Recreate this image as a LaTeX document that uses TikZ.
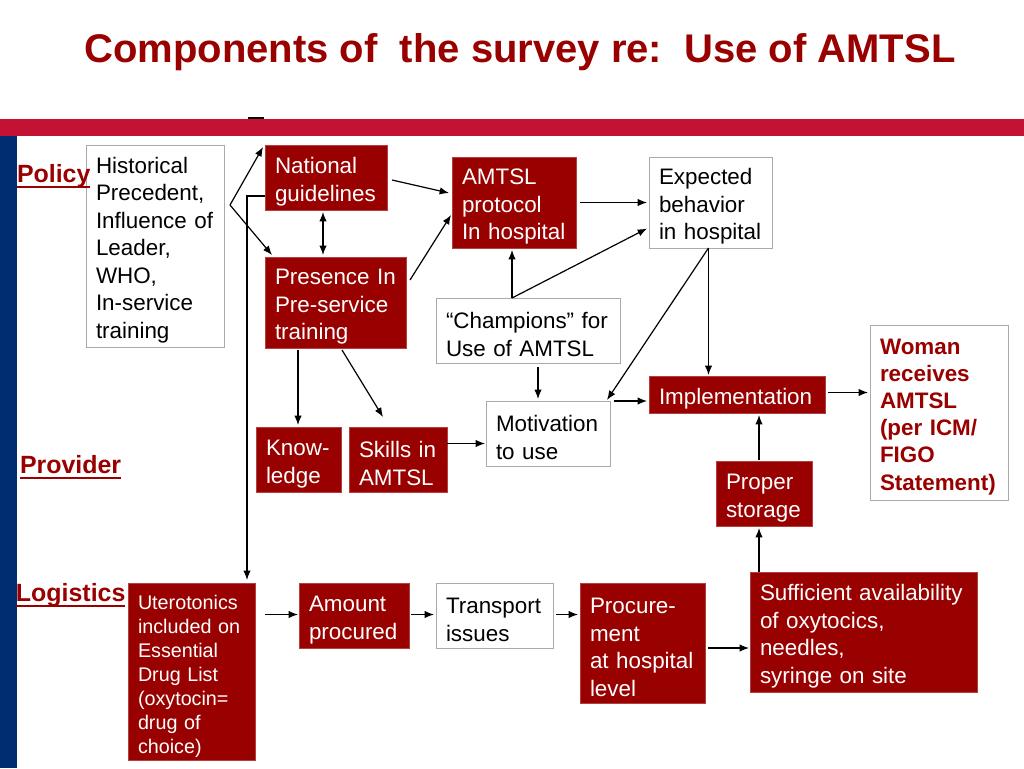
\documentclass[tikz,border=0pt]{standalone}
\usepackage{fontspec}
\setmainfont{Liberation Sans}
\usetikzlibrary{arrows.meta,calc}
\definecolor{boxred}{RGB}{153,0,0}
\definecolor{barred}{RGB}{196,18,52}
\definecolor{navy}{RGB}{0,45,114}
\definecolor{edgegray}{RGB}{170,170,170}
\begin{document}
\begin{tikzpicture}[x=0.75pt,y=-0.75pt,
  every node/.style={inner sep=0pt, outer sep=0pt},
  basebox/.style={anchor=north west, align=left, inner xsep=7.5pt, inner ysep=0pt,
    font=\fontsize{16.8}{20.6}\selectfont, execute at begin node={\rule{0pt}{18.3pt}}},
  redbox/.style={basebox, draw=boxred!75!white, line width=0.5pt, fill=boxred, text=white},
  whitebox/.style={basebox, draw=edgegray, line width=0.75pt, fill=white, text=black},
  arr/.style={-{Latex[length=7pt,width=5.5pt]}, line width=0.9pt, black},
  darr/.style={{Latex[length=7pt,width=5.5pt]}-{Latex[length=7pt,width=5.5pt]}, line width=0.9pt, black},
  lbl/.style={anchor=base west, text=boxred, font=\fontsize{18.7}{22}\selectfont\bfseries},
  uline/.style={boxred, line width=1.5pt},
]
\useasboundingbox (0,0) rectangle (1024,768);
\fill[white] (0,0) rectangle (1024,768);

% bars
\fill[barred] (0,119) rectangle (1024,136);
\fill[navy] (0,136) rectangle (17,768);
\draw[line width=1.5pt] (248,118) -- (264,118);

% title
\node[anchor=base, text=boxred, font=\fontsize{30}{36}\selectfont\bfseries] (title) at (520,62)
  {Components of\ \ the survey re:\ \ Use of AMTSL};

% boxes
\node[whitebox, minimum width=103.5pt, minimum height=151.5pt, text width=88.5pt] (hist) at (86,145)
  {Historical\\Precedent,\\Influence of\\Leader,\\WHO,\\In-service\\training};
\node[redbox, minimum width=91.5pt, minimum height=48.75pt, text width=76.5pt] (natl) at (265,145)
  {National\\guidelines};
\node[redbox, minimum width=105.75pt, minimum height=68.25pt, text width=90.75pt] (pres) at (265,257)
  {Presence In\\Pre-service\\training};
\node[redbox, minimum width=93pt, minimum height=68.25pt, text width=78pt] (amtsl) at (452,157)
  {AMTSL\\protocol\\In hospital};
\node[whitebox, minimum width=92.25pt, minimum height=68.25pt, text width=77.25pt] (expb) at (649,157)
  {Expected\\behavior\\in hospital};
\node[whitebox, minimum width=138pt, minimum height=48.75pt, text width=123pt] (champ) at (436,298)
  {“Champions” for\\Use of AMTSL};
\node[redbox, minimum width=132pt, minimum height=27.75pt, text width=117pt] (impl) at (649,376)
  {Implementation};
\node[whitebox, minimum width=103.5pt, minimum height=131.25pt, text width=88.5pt, text=boxred,
  font=\fontsize{16.8}{20.3}\selectfont\bfseries] (woman) at (870,325)
  {Woman\\receives\\AMTSL\\(per ICM/\\FIGO\\Statement)};
\node[whitebox, minimum width=93pt, minimum height=48.75pt, text width=78pt] (motiv) at (486,401)
  {Motivation\\to use};
\node[redbox, minimum width=63.75pt, minimum height=48.75pt, text width=48.75pt] (know) at (256,427)
  {Know-\\ledge};
\node[redbox, minimum width=73.5pt, minimum height=48.75pt, text width=58.5pt] (skills) at (349,427)
  {Skills in\\AMTSL};
\node[redbox, minimum width=72pt, minimum height=48.75pt, text width=57pt] (store) at (716,461)
  {Proper\\storage};
\node[redbox, minimum width=170.25pt, minimum height=90pt, text width=155.25pt] (suff) at (750,572)
  {Sufficient availability\\of oxytocics,\\needles,\\syringe on site};
\node[redbox, minimum width=95.25pt, minimum height=132.75pt, text width=80.25pt,
  font=\fontsize{14.8}{18}\selectfont, execute at begin node={\rule{0pt}{16.8pt}}] (utero) at (128,583)
  {Uterotonics\\included on\\Essential\\Drug List\\(oxytocin=\\drug of\\choice)};
\node[redbox, minimum width=82.5pt, minimum height=48.75pt, text width=67.5pt] (amount) at (299,583)
  {Amount\\procured};
\node[whitebox, minimum width=87.75pt, minimum height=48.75pt, text width=72.75pt] (trans) at (436,583)
  {Transport\\issues};
\node[redbox, minimum width=93.75pt, minimum height=90pt, text width=78.75pt] (procure) at (580,583)
  {Procure-\\ment\\at hospital\\level};

% row labels
\node[lbl] (pol) at (17,182) {Policy};
\draw[uline] ([shift={(0,5)}]pol.base west) -- ([shift={(0,5)}]pol.base east);
\node[lbl] (prov) at (20,473) {Provider};
\draw[uline] ([shift={(0,5)}]prov.base west) -- ([shift={(0,5)}]prov.base east);
\node[lbl] (logi) at (16,601) {Logistics};
\draw[uline] ([shift={(0,5)}]logi.base west) -- ([shift={(0,5)}]logi.base east);

% connectors
\coordinate (apex) at (230,205);
\draw[arr] (apex) -- ([shift={(-2,2)}]natl.north west);
\draw[arr] (apex) -- ([shift={(7,-2)}]pres.north west);
\draw[darr] ([shift={(-3,2)}]natl.south) -- ([shift={(-3,-2)}]natl.south |- pres.north);
\draw[arr] ([shift={(5,2.5)}]natl.east) -- ([shift={(-3,-9.5)}]amtsl.west);
\draw[arr] ([shift={(4,23)}]pres.north east) -- ([shift={(-1,12.5)}]amtsl.west);
\draw[arr] ([shift={(4,0)}]amtsl.east) -- ([shift={(-2,0)}]expb.west);
\coordinate (cn) at ([shift={(-16,0)}]champ.north);
\draw[arr] (cn) -- ([shift={(0,2)}]cn |- amtsl.south);
\draw[arr] (cn) -- ([shift={(-2,26)}]expb.west);
\coordinate (es) at ([shift={(-2,0)}]expb.south);
\draw[arr] (es) -- ([shift={(0,-1)}]es |- impl.north);
\draw[arr] (es) -- ([shift={(-3,-1)}]motiv.north east);
\coordinate (cs) at ([shift={(10,4)}]champ.south);
\draw[arr] (cs) -- ([shift={(0,-2)}]cs |- motiv.north);
\draw[arr] ([shift={(4,0)}]motiv.north east) -- ([shift={(-2,0)}]motiv.north east -| impl.west);
\draw[arr] ([shift={(3,-2)}]impl.east) -- ([shift={(-2,-2)}]impl.east -| woman.west);
\coordinate (ps) at ([shift={(33,2)}]pres.south west);
\draw[arr] (ps) -- ([shift={(0,-2)}]ps |- know.north);
\draw[arr] ([shift={(77,2)}]pres.south west) -- ([shift={(-15,-10)}]skills.north);
\draw[arr] ([shift={(0,-16)}]skills.east) -- ([shift={(-1,-16)}]skills.east -| motiv.west);
\coordinate (sn) at ([shift={(-5,-1)}]store.north);
\draw[arr] (sn) -- ([shift={(0,2)}]sn |- impl.south);
\coordinate (sfn) at ([shift={(-5,0)}]store.south |- suff.north);
\draw[arr] (sfn) -- ([shift={(-5,2)}]store.south);
\draw[arr] ([shift={(3,5)}]procure.east) -- ([shift={(-1,5)}]procure.east -| suff.west);
\draw[arr] ([shift={(10,-1)}]utero.east |- amount.west) -- ([shift={(-1,-1)}]amount.west);
\draw[arr] ([shift={(2,-1)}]amount.east) -- ([shift={(-2,-1)}]trans.west);
\draw[arr] ([shift={(3,-1)}]trans.east) -- ([shift={(-2,-1)}]trans.east -| procure.west);
\draw[arr] ([shift={(0,18.5)}]natl.west) -| ([shift={(-8,-3)}]utero.north east);
\end{tikzpicture}
\end{document}
